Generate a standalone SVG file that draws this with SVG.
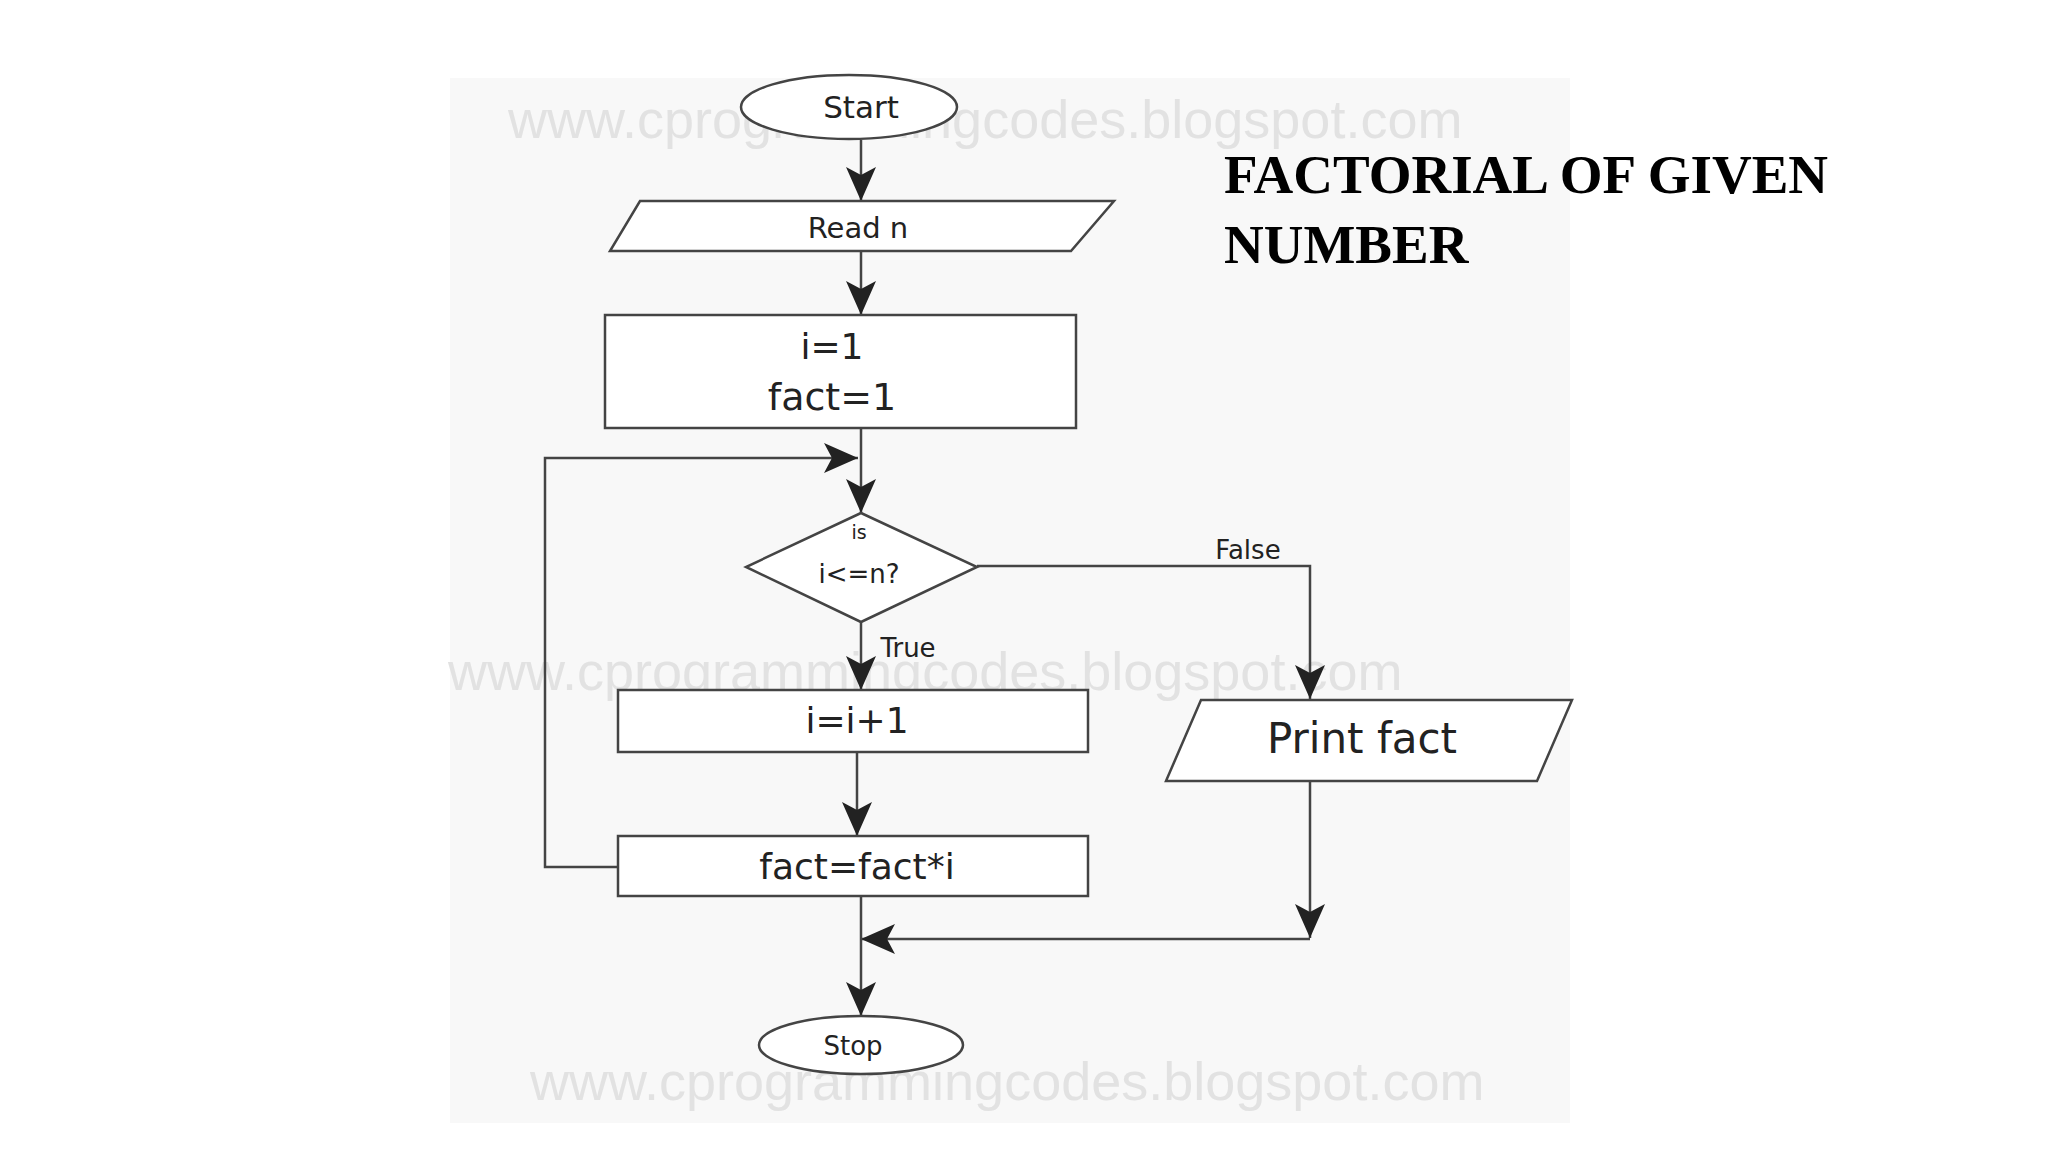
<svg xmlns="http://www.w3.org/2000/svg" width="2048" height="1152" viewBox="0 0 2048 1152">
<style>
.s{fill:#fff;stroke:#444;stroke-width:2.5}
.c{fill:none;stroke:#444;stroke-width:2.5}
.t{font-family:"DejaVu Sans","Liberation Sans",sans-serif;fill:#222;text-anchor:middle}
.w{font-family:"Liberation Sans",sans-serif;fill:#e2e2e2;font-size:54px}
.h{font-family:"Liberation Serif",serif;font-weight:bold;font-size:55px;fill:#000}
</style>
<defs>
<marker id="a" markerUnits="userSpaceOnUse" markerWidth="34" markerHeight="30" viewBox="0 0 34 30" refX="34" refY="15" orient="auto">
<path d="M0,0 L34,15 L0,30 L8,15 Z" fill="#222"/>
</marker>
</defs>
<rect width="2048" height="1152" fill="#fff"/>
<rect x="450" y="78" width="1120" height="1045" fill="#f8f8f8"/>
<g id="watermarks">
<text class="w" x="508" y="138">www.cprogrammingcodes.blogspot.com</text>
<text class="w" x="448" y="690">www.cprogrammingcodes.blogspot.com</text>
<text class="w" x="530" y="1100">www.cprogrammingcodes.blogspot.com</text>
</g>
<g id="title">
<text class="h" x="1224" y="193">FACTORIAL OF GIVEN</text>
<text class="h" x="1224" y="263">NUMBER</text>
</g>
<g id="connectors">
<path class="c" d="M861,140 V201" marker-end="url(#a)"/>
<path class="c" d="M861,251 V315" marker-end="url(#a)"/>
<path class="c" d="M861,428 V513" marker-end="url(#a)"/>
<path class="c" d="M618,867 H545 V458 H858" marker-end="url(#a)"/>
<path class="c" d="M977,566 H1310 V699" marker-end="url(#a)"/>
<path class="c" d="M861,622 V690" marker-end="url(#a)"/>
<path class="c" d="M857,752 V836" marker-end="url(#a)"/>
<path class="c" d="M1310,781 V938" marker-end="url(#a)"/>
<path class="c" d="M1310,939 H861" marker-end="url(#a)"/>
<path class="c" d="M861,896 V1016" marker-end="url(#a)"/>
<text class="t" x="1248" y="559" font-size="26">False</text>
<text class="t" x="908" y="657" font-size="26">True</text>
</g>
<g id="start"><ellipse class="s" cx="849" cy="107" rx="108" ry="32"/><text class="t" x="861" y="118" font-size="31">Start</text></g>
<g id="read"><path class="s" d="M640,201 H1114 L1071,251 H610 Z"/><text class="t" x="858" y="238" font-size="29">Read n</text></g>
<g id="init"><rect class="s" x="605" y="315" width="471" height="113"/><text class="t" x="832" y="359" font-size="36">i=1</text><text class="t" x="832" y="410" font-size="38">fact=1</text></g>
<g id="decision"><path class="s" d="M861,513 L977,567 L861,622 L746,567 Z"/><text class="t" x="859" y="539" font-size="19">is</text><text class="t" x="859" y="583" font-size="26">i&lt;=n?</text></g>
<g id="inc"><rect class="s" x="618" y="690" width="470" height="62"/><text class="t" x="857" y="733" font-size="36">i=i+1</text></g>
<g id="mul"><rect class="s" x="618" y="836" width="470" height="60"/><text class="t" x="857" y="879" font-size="36">fact=fact*i</text></g>
<g id="print"><path class="s" d="M1201,700 H1572 L1537,781 H1166 Z"/><text class="t" x="1362" y="753" font-size="42">Print fact</text></g>
<g id="stop"><ellipse class="s" cx="861" cy="1045" rx="102" ry="29"/><text class="t" x="853" y="1055" font-size="26">Stop</text></g>
</svg>
